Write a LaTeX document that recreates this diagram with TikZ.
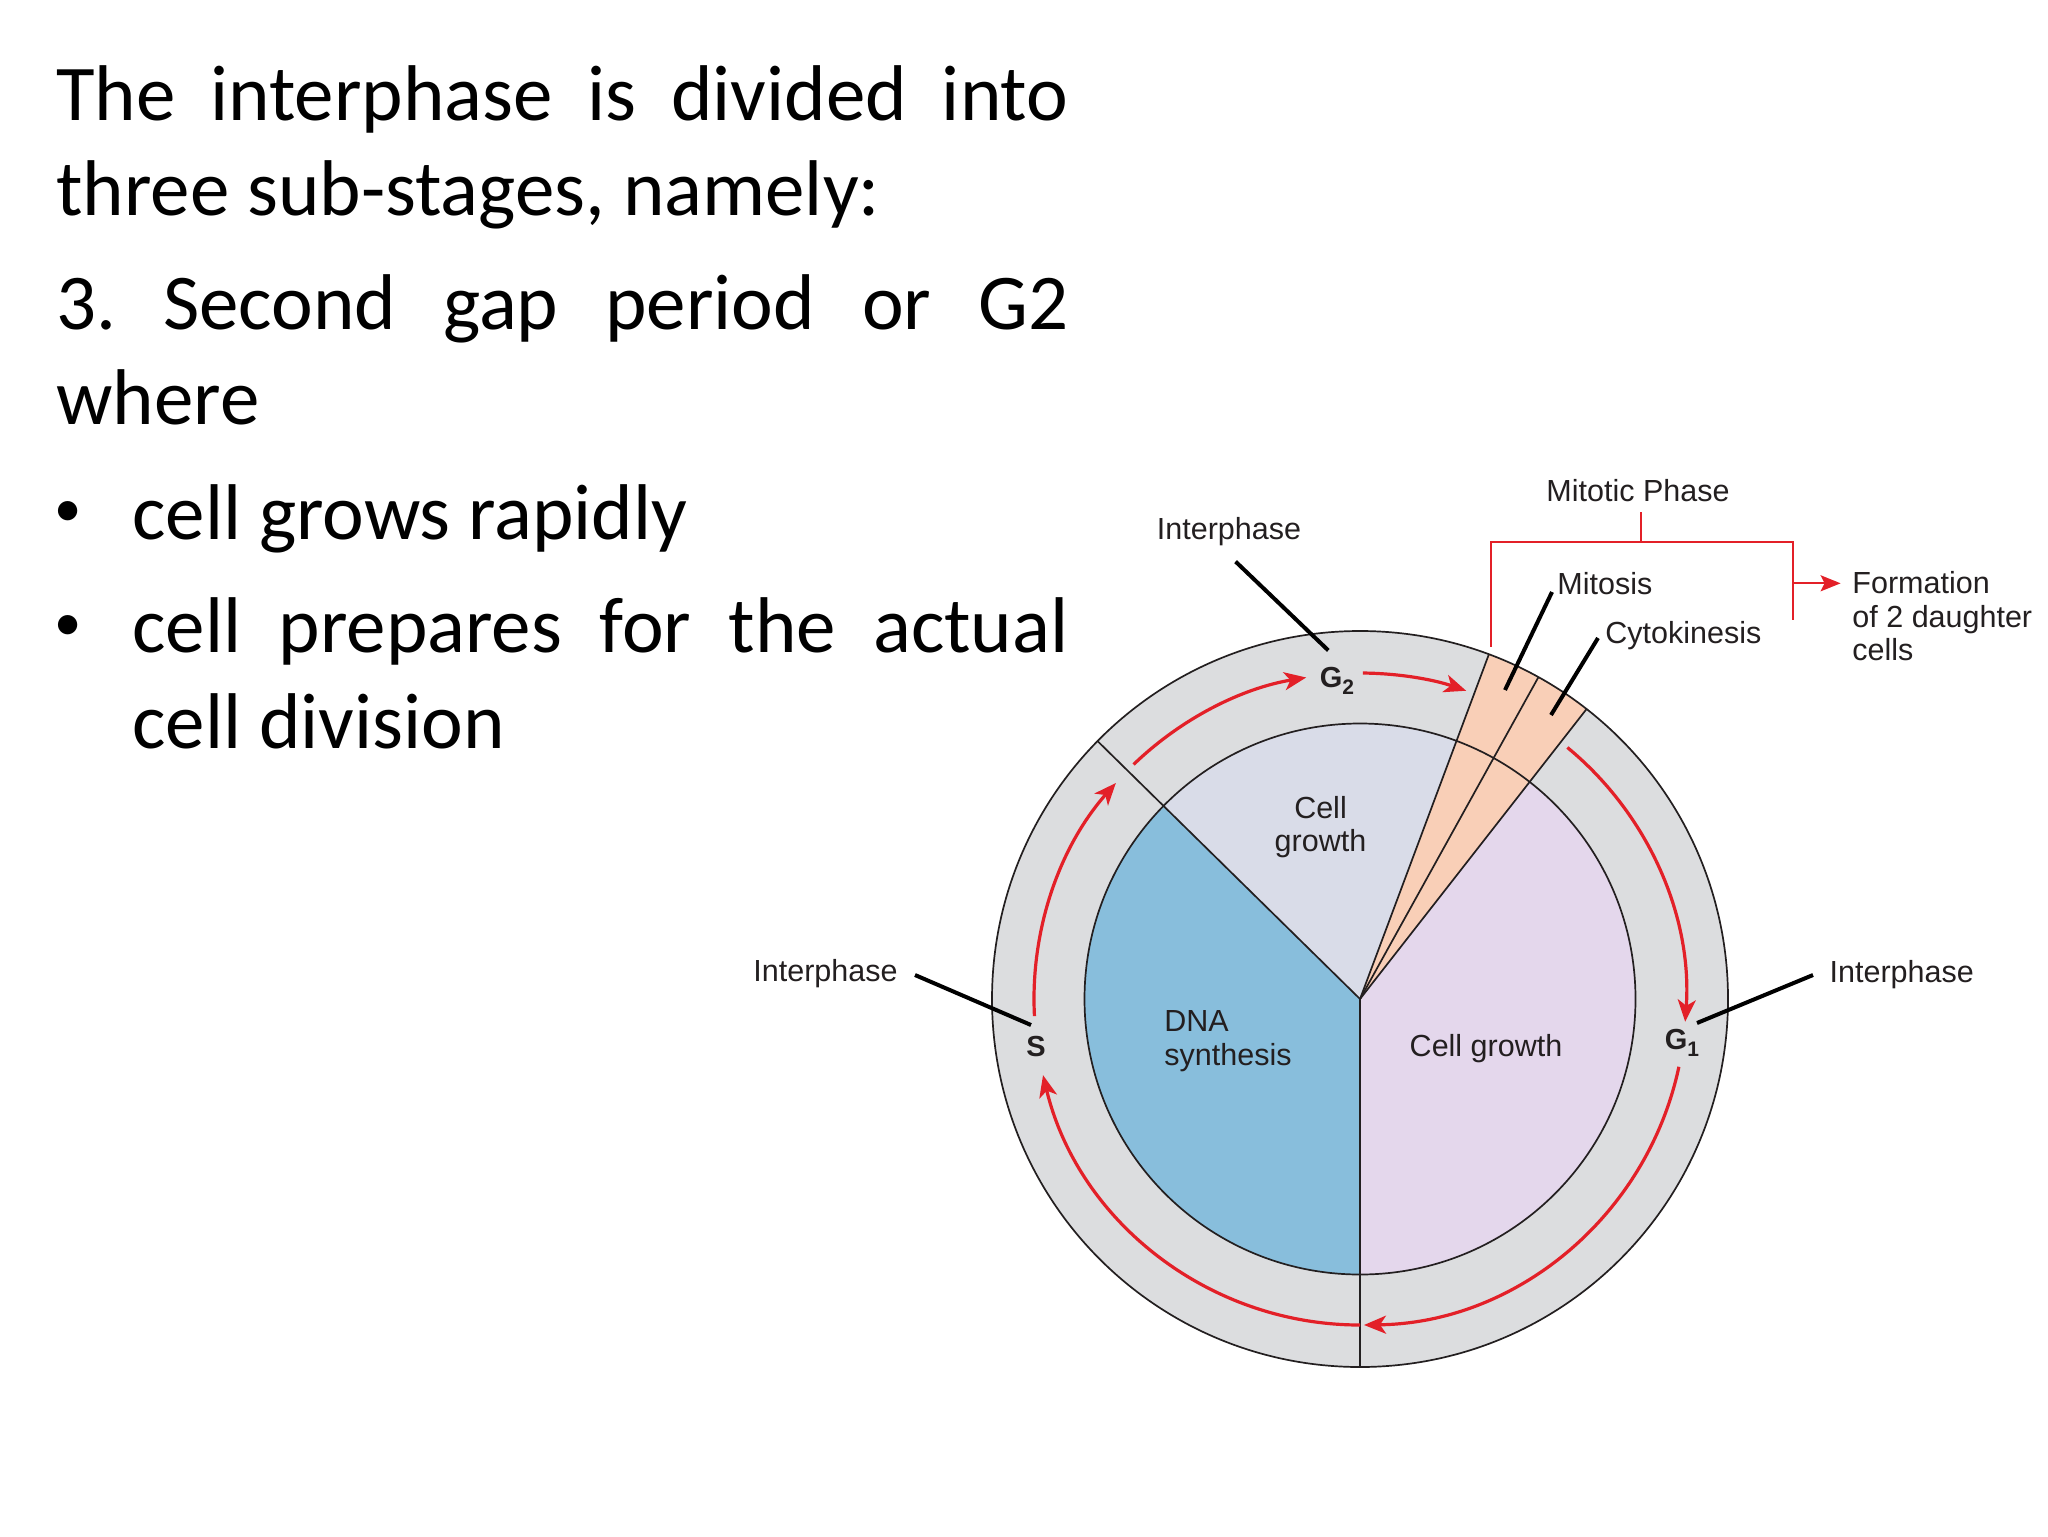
\documentclass[tikz,border=0pt]{standalone}
\usepackage{fontspec}
\setmainfont{Carlito}
\newfontfamily\diag{Liberation Sans}
\usetikzlibrary{arrows.meta,calc}
\definecolor{ringgray}{HTML}{DCDDDF}
\definecolor{topsec}{HTML}{D9DCE8}
\definecolor{dnablue}{HTML}{88BEDC}
\definecolor{lavender}{HTML}{E4D7EC}
\definecolor{peach}{HTML}{F9CFB7}
\definecolor{cyclered}{HTML}{E32028}
\definecolor{ink}{HTML}{231F20}
\frenchspacing
\begin{document}
\begin{tikzpicture}[x=0.5pt,y=0.5pt,
  body/.style={font=\fontsize{39.5}{47.5}\selectfont, inner sep=0pt, anchor=base west},
  bul/.style={font=\fontsize{27.3}{30}\selectfont, inner sep=0pt, anchor=base west},
  lbl/.style={font=\diag\fontsize{15.25}{16.75}\selectfont, text=ink, inner sep=0pt},
  phase/.style={font=\diag\bfseries\fontsize{14.5}{16}\selectfont, text=ink, inner sep=0pt},
  outline/.style={draw=ink, line width=0.85pt},
  leader/.style={draw=black, line width=2pt},
  cyc/.style={draw=cyclered, line width=1.6pt, -{Stealth[length=11pt,width=9pt,inset=3pt]}},
  bracket/.style={draw=cyclered, line width=1.1pt},
]
\useasboundingbox (0,0) rectangle (2048,-1536);
\fill[white] (0,0) rectangle (2048,-1536);

% ---- left text ----
\node[body] (l1) at (56,-120) {\makebox[506pt][s]{The interphase is divided into}};
\node[body] (l2) at (56,-215) {three sub-stages, namely:};
\node[body] (l3) at (56,-329.3) {\makebox[506pt][s]{3. Second gap period or G2}};
\node[body] (l4) at (56,-424) {where};
\node[bul] (b1) at (53.7,-539.3) {\raisebox{6.2pt}{•}};
\node[body] (l5) at (132,-539.3) {cell grows rapidly};
\node[bul] (b2) at (53.7,-652.7) {\raisebox{6.2pt}{•}};
\node[body] (l6) at (132,-652.7) {\makebox[468pt][s]{cell prepares for the actual}};
\node[body] (l7) at (132,-748.5) {cell division};

% ---- cycle diagram ----
\coordinate (C) at (1360,-999);
\fill[ringgray] (C) circle[radius=368];
\fill[topsec] (C) -- ++(69.5:275.5) arc[start angle=69.5,end angle=135.5,radius=275.5] -- cycle;
\fill[dnablue] (C) -- ++(135.5:275.5) arc[start angle=135.5,end angle=270,radius=275.5] -- cycle;
\fill[lavender] (C) -- ++(-90:275.5) arc[start angle=-90,end angle=52,radius=275.5] -- cycle;
\fill[peach] (C) -- ++(52:368) arc[start angle=52,end angle=69.5,radius=368] -- cycle;
\draw[outline] (C) circle[radius=368];
\draw[outline] (C) circle[radius=275.5];
\foreach \a in {135.5,270,69.5,61,52} \draw[outline] (C) -- ++(\a:368);

% red cycle arrows
\foreach \s/\e in {183/138.5, 134/99.5, 89.5/71, 50.5/-4, -12/-89.3, 270/193.5}
  \draw[cyc] ($(C)+(\s:326)$) arc[start angle=\s,end angle=\e,radius=326];

% phase labels
\node[phase] (g2) at (1337,-681) {G\raisebox{-0.5ex}{\fontsize{10.5}{10.5}\selectfont 2}};
\node[phase] (s) at (1036,-1047) {S};
\node[phase] (g1) at (1682,-1043) {G\raisebox{-0.5ex}{\fontsize{10.5}{10.5}\selectfont 1}};

% text labels
\node[lbl] (itop) at (1229,-532) {Interphase};
\node[lbl] (ileft) at (825.5,-974) {Interphase};
\node[lbl] (iright) at (1901.7,-974.4) {Interphase};
\node[lbl] (mitphase) at (1638,-491) {Mitotic Phase};
\node[lbl, anchor=west] (mitosis) at (1557,-584) {Mitosis};
\node[lbl, anchor=west] (cyto) at (1605,-636) {Cytokinesis};
\node[lbl, anchor=west, align=left] (form) at (1852,-616.5) {Formation\\of 2 daughter\\cells};
\node[lbl, align=center] (cg1) at (1320.5,-827) {Cell\\growth};
\node[lbl, anchor=west, align=left] (dna) at (1164,-1041) {DNA\\synthesis};
\node[lbl] (cg2) at (1486,-1049) {Cell growth};

% leader lines
\coordinate (itopA) at (1235.6,-561.6); \coordinate (itopB) at (1328.3,-650.4);
\coordinate (ileftA) at (915,-975);     \coordinate (ileftB) at (1031,-1025);
\coordinate (irightA) at (1813,-975);   \coordinate (irightB) at (1697,-1023);
\coordinate (mitA) at (1552,-592);      \coordinate (mitB) at (1505,-690);
\coordinate (cytA) at (1598,-638);      \coordinate (cytB) at (1551,-715);
\draw[leader] (itopA) -- (itopB);
\draw[leader] (ileftA) -- (ileftB);
\draw[leader] (irightA) -- (irightB);
\draw[leader] (mitA) -- (mitB);
\draw[leader] (cytA) -- (cytB);

% mitotic phase bracket
\coordinate (bt) at (1641,-512);   \coordinate (bm) at (1641,-541.7);
\coordinate (bl) at (1491,-646.7); \coordinate (br) at (1792.7,-620);
\coordinate (brt) at (1792.7,-541.7);
\coordinate (ba) at (1792.7,-583.3); \coordinate (bb) at (1840.6,-583.3);
\draw[bracket] (bt) -- (bm);
\draw[bracket] (bl) |- (brt) -- (br);
\draw[bracket, -{Stealth[length=10pt,width=8pt,inset=2pt]}] (ba) -- (bb);
\end{tikzpicture}
\end{document}
